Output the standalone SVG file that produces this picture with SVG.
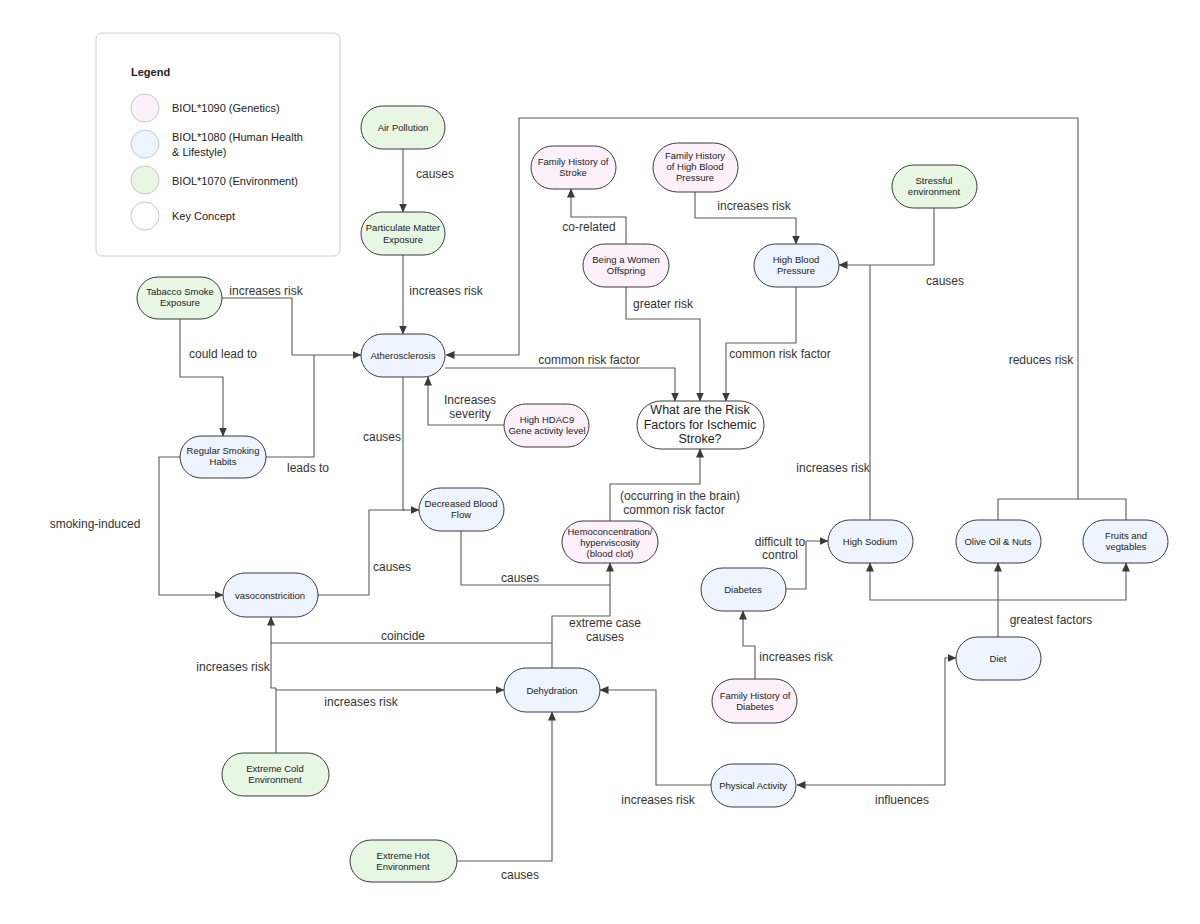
<svg xmlns="http://www.w3.org/2000/svg" width="1200" height="924" viewBox="0 0 1200 924">
<style>
.n{stroke:#3a3a3a;stroke-width:1}
.g{fill:#fcf0fb}
.b{fill:#edf4fd}
.e{fill:#e7f7e3}
.w{fill:#ffffff}
.t{font-family:"Liberation Sans",Arial,sans-serif;font-size:9.5px;fill:#222;text-anchor:middle;dominant-baseline:central}
.k{font-family:"Liberation Sans",Arial,sans-serif;font-size:12.5px;fill:#222;text-anchor:middle;dominant-baseline:central}
.l{font-family:"Liberation Sans",Arial,sans-serif;font-size:12px;fill:#333;text-anchor:middle;dominant-baseline:central}
.lg{font-family:"Liberation Sans",Arial,sans-serif;font-size:11px;fill:#222;dominant-baseline:central}
.c{fill:none;stroke:#5a5a5a;stroke-width:1.1;stroke-linejoin:round}
.a{marker-end:url(#ar)}
.lc{stroke:#c8c8c8;stroke-width:1}
</style>
<defs>
<marker id="ar" markerUnits="userSpaceOnUse" markerWidth="9" markerHeight="8" refX="8.5" refY="4" orient="auto">
<path d="M0,0 L9,4 L0,8 z" fill="#3a3a3a"/>
</marker>
<marker id="as" markerUnits="userSpaceOnUse" markerWidth="9" markerHeight="8" refX="8.5" refY="4" orient="auto-start-reverse">
<path d="M0,0 L9,4 L0,8 z" fill="#3a3a3a"/>
</marker>
</defs>
<rect width="1200" height="924" fill="#ffffff"/>

<g id="legend">
<rect x="96" y="33" width="244" height="223" rx="6" fill="#fff" stroke="#d0d0d0"/>
<text x="131" y="72" class="lg" font-weight="bold">Legend</text>
<circle cx="145" cy="108" r="14" class="g lc"/>
<circle cx="145" cy="144" r="14" class="b lc"/>
<circle cx="145" cy="180" r="14" class="e lc"/>
<circle cx="145" cy="216" r="14" class="w lc"/>
<text x="172" y="108" class="lg">BIOL*1090 (Genetics)</text>
<text x="172" y="137" class="lg">BIOL*1080 (Human Health</text>
<text x="172" y="152" class="lg">&amp; Lifestyle)</text>
<text x="172" y="181" class="lg">BIOL*1070 (Environment)</text>
<text x="172" y="216" class="lg">Key Concept</text>
</g>

<g id="connectors">
<path class="c a" d="M403,149 V212"/>
<path class="c a" d="M403,255 V334"/>
<path class="c a" d="M222,298 H292 V355 H361"/>
<path class="c a" d="M180,319 V377 H223 V436"/>
<path class="c" d="M266,457 H314 V355"/>
<path class="c a" d="M445,368 H675 V401"/>
<path class="c a" d="M998,520 V499 H1078 V118 H519 V355 H446"/>
<path class="c" d="M1126,520 V499 H1078"/>
<path class="c a" d="M504,425 H428 V377"/>
<path class="c a" d="M403,377 V510 H419"/>
<path class="c a" d="M180,457 H159 V595 H223"/>
<path class="c" d="M318,595 H369 V510 H405"/>
<path class="c a" d="M461,531 V585 H610 V563"/>
<path class="c a" d="M610,521 V484 H700 V449"/>
<path class="c a" d="M626,244 V217 H571 V189"/>
<path class="c a" d="M626,287 V319 H700 V401"/>
<path class="c a" d="M695,192 V218 H796 V244"/>
<path class="c a" d="M934,208 V265 H839"/>
<path class="c a" d="M796,287 V343 H726 V401"/>
<path class="c" d="M870,520 V265"/>
<path class="c a" d="M786,589 H806 V541 H828"/>
<path class="c a" d="M755,679 V646 H743 V611"/>
<path class="c a" d="M998,637 V600 H870 V563"/>
<path class="c a" d="M998,600 V563"/>
<path class="c a" d="M998,600 H1126 V563"/>
<path class="c" d="M797,785 H945 V658 H956" marker-start="url(#as)" marker-end="url(#ar)"/>
<path class="c a" d="M711,785 H656 V690 H600"/>
<path class="c a" d="M457,861 H552 V712"/>
<path class="c a" d="M276,753 V690 H504"/>
<path class="c a" d="M276,690 V688 H271 V617"/>
<path class="c" d="M552,668 V643 H271"/>
<path class="c" d="M552,643 V616 H610 V585"/>
</g>

<g id="edge-labels">
<text x="435" y="174" class="l">causes</text>
<text x="446" y="291" class="l">increases risk</text>
<text x="266" y="291" class="l">increases risk</text>
<text x="223" y="354" class="l">could lead to</text>
<text x="308" y="468" class="l">leads to</text>
<text x="589" y="360" class="l">common risk factor</text>
<text x="1041" y="360" class="l">reduces risk</text>
<text x="470" y="400" class="l">Increases</text>
<text x="470" y="414" class="l">severity</text>
<text x="382" y="437" class="l">causes</text>
<text x="95" y="524" class="l">smoking-induced</text>
<text x="392" y="567" class="l">causes</text>
<text x="520" y="578" class="l">causes</text>
<text x="680" y="496" class="l">(occurring in the brain)</text>
<text x="674" y="510" class="l">common risk factor</text>
<text x="589" y="227" class="l">co-related</text>
<text x="663" y="304" class="l">greater risk</text>
<text x="754" y="206" class="l">increases risk</text>
<text x="945" y="281" class="l">causes</text>
<text x="780" y="354" class="l">common risk factor</text>
<text x="833" y="468" class="l">increases risk</text>
<text x="780" y="542" class="l">difficult to</text>
<text x="780" y="555" class="l">control</text>
<text x="796" y="657" class="l">increases risk</text>
<text x="1051" y="620" class="l">greatest factors</text>
<text x="902" y="800" class="l">influences</text>
<text x="658" y="800" class="l">increases risk</text>
<text x="520" y="875" class="l">causes</text>
<text x="361" y="702" class="l">increases risk</text>
<text x="233" y="667" class="l">increases risk</text>
<text x="403" y="636" class="l">coincide</text>
<text x="605" y="623" class="l">extreme case</text>
<text x="605" y="637" class="l">causes</text>
</g>

<g id="air-pollution"><rect x="361" y="106" width="84" height="43" rx="21.5" class="n e"/><text x="403" y="127" class="t">Air Pollution</text></g>
<g id="particulate"><rect x="361" y="212" width="84" height="43" rx="21.5" class="n e"/><text x="403" y="227" class="t">Particulate Matter</text><text x="403" y="239" class="t">Exposure</text></g>
<g id="atherosclerosis"><rect x="361" y="334" width="84" height="43" rx="21.5" class="n b"/><text x="403" y="355" class="t">Atherosclerosis</text></g>
<g id="tabacco"><rect x="137" y="277" width="85" height="42" rx="21" class="n e"/><text x="180" y="291" class="t">Tabacco Smoke</text><text x="180" y="302" class="t">Exposure</text></g>
<g id="smoking"><rect x="180" y="436" width="86" height="42" rx="21" class="n b"/><text x="223" y="450" class="t">Regular Smoking</text><text x="223" y="461" class="t">Habits</text></g>
<g id="hdac9"><rect x="504" y="404" width="85" height="43" rx="21.5" class="n g"/><text x="547" y="419" class="t">High HDAC9</text><text x="547" y="430" class="t">Gene activity level</text></g>
<g id="key"><rect x="637" y="401" width="127" height="48" rx="24" class="n w"/><text x="700" y="410" class="k">What are the Risk</text><text x="700" y="425" class="k">Factors for Ischemic</text><text x="700" y="439" class="k">Stroke?</text></g>
<g id="decreased-flow"><rect x="419" y="488" width="85" height="43" rx="21.5" class="n b"/><text x="461" y="503" class="t">Decreased Blood</text><text x="461" y="514" class="t">Flow</text></g>
<g id="hemo"><rect x="562" y="521" width="96" height="42" rx="21" class="n g"/><text x="610" y="531" class="t">Hemoconcentration/</text><text x="610" y="542" class="t">hyperviscosity</text><text x="610" y="553" class="t">(blood clot)</text></g>
<g id="fh-stroke"><rect x="531" y="146" width="85" height="43" rx="21.5" class="n g"/><text x="573" y="161" class="t">Family History of</text><text x="573" y="172" class="t">Stroke</text></g>
<g id="fh-hbp"><rect x="653" y="143" width="85" height="49" rx="24.5" class="n g"/><text x="695" y="155" class="t">Family History</text><text x="695" y="166" class="t">of High Blood</text><text x="695" y="177" class="t">Pressure</text></g>
<g id="stressful"><rect x="892" y="165" width="85" height="43" rx="21.5" class="n e"/><text x="934" y="180" class="t">Stressful</text><text x="934" y="191" class="t">environment</text></g>
<g id="women"><rect x="583" y="244" width="86" height="43" rx="21.5" class="n g"/><text x="626" y="259" class="t">Being a Women</text><text x="626" y="270" class="t">Offspring</text></g>
<g id="hbp"><rect x="754" y="244" width="85" height="43" rx="21.5" class="n b"/><text x="796" y="259" class="t">High Blood</text><text x="796" y="270" class="t">Pressure</text></g>
<g id="sodium"><rect x="828" y="520" width="85" height="43" rx="21.5" class="n b"/><text x="870" y="541" class="t">High Sodium</text></g>
<g id="olive"><rect x="956" y="520" width="85" height="43" rx="21.5" class="n b"/><text x="998" y="541" class="t">Olive Oil &amp; Nuts</text></g>
<g id="fruits"><rect x="1083" y="520" width="85" height="43" rx="21.5" class="n b"/><text x="1126" y="535" class="t">Fruits and</text><text x="1126" y="546" class="t">vegtables</text></g>
<g id="diabetes"><rect x="701" y="568" width="85" height="43" rx="21.5" class="n b"/><text x="743" y="589" class="t">Diabetes</text></g>
<g id="diet"><rect x="956" y="637" width="85" height="43" rx="21.5" class="n b"/><text x="998" y="658" class="t">Diet</text></g>
<g id="fh-diabetes"><rect x="712" y="679" width="85" height="44" rx="22" class="n g"/><text x="755" y="695" class="t">Family History of</text><text x="755" y="706" class="t">Diabetes</text></g>
<g id="vaso"><rect x="223" y="573" width="95" height="44" rx="22" class="n b"/><text x="270" y="595" class="t">vasoconstricition</text></g>
<g id="dehydration"><rect x="504" y="668" width="96" height="44" rx="22" class="n b"/><text x="552" y="690" class="t">Dehydration</text></g>
<g id="cold"><rect x="222" y="753" width="107" height="43" rx="21.5" class="n e"/><text x="275" y="768" class="t">Extreme Cold</text><text x="275" y="779" class="t">Environment</text></g>
<g id="hot"><rect x="350" y="840" width="107" height="42" rx="21" class="n e"/><text x="403" y="855" class="t">Extreme Hot</text><text x="403" y="866" class="t">Environment</text></g>
<g id="physical"><rect x="711" y="764" width="85" height="43" rx="21.5" class="n b"/><text x="753" y="785" class="t">Physical Activity</text></g>
</svg>
